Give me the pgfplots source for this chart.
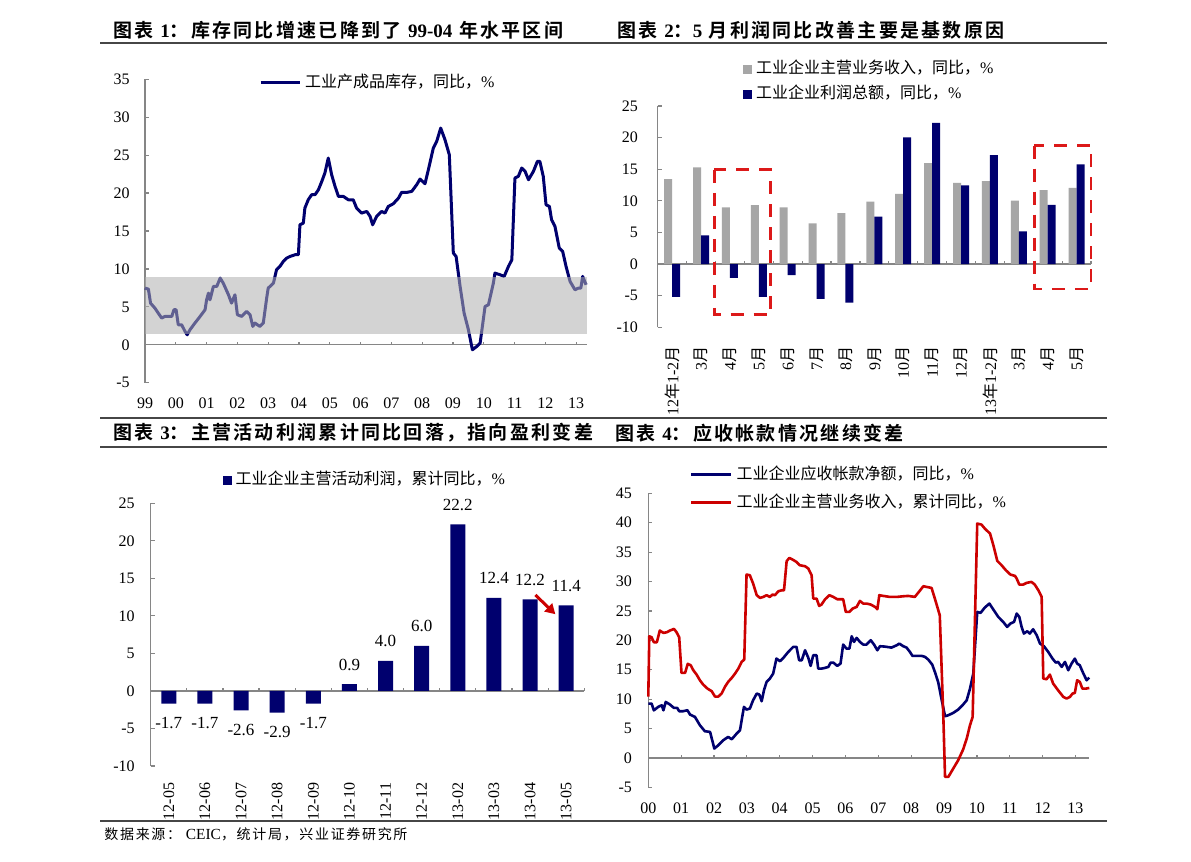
\documentclass[border=0pt]{standalone}
\usepackage{fontspec}
\usepackage{pgfplots}
\pgfplotsset{compat=1.18}
\usetikzlibrary{arrows.meta}
\setmainfont{Liberation Serif}
\newfontfamily\cjk{Noto Sans CJK SC}
\newfontfamily\cjkbf{Noto Sans CJK SC Bold}[LetterSpace=12]
\newfontfamily\cjkft{Noto Sans CJK SC}[LetterSpace=12]
\newcommand\zh[1]{{\cjk #1}}
\newcommand\tn[1]{{\rmfamily\bfseries #1}}

\definecolor{navy}{RGB}{0,0,110}
\definecolor{axisgray}{RGB}{134,134,134}
\definecolor{bargray}{RGB}{166,166,166}
\definecolor{bandgray}{RGB}{175,175,175}
\definecolor{linered}{RGB}{204,0,0}
\definecolor{boxred}{RGB}{220,25,25}
\definecolor{rulegray}{RGB}{70,70,70}

\pgfplotsset{
  panel/.style={
    scale only axis,
    axis x line=bottom, axis y line=left,
    axis line style={-},
    x axis line style={draw=none},
    y axis line style={draw=axisgray, line width=0.6pt},
    xtick style={draw=none},
    ytick style={draw=axisgray, line width=0.6pt},
    tick align=inside,
    major tick length=2pt,
    clip=false,
    tick label style={font=\fontsize{8pt}{9pt}\selectfont},
    yticklabel style={anchor=east, inner sep=0pt},
    xticklabel style={anchor=north, inner sep=0pt},
    legend style={draw=none, fill=none, inner sep=0pt, outer sep=0pt,
      font=\fontsize{8pt}{9pt}\selectfont\cjk,
      nodes={inner sep=0pt, text height=6pt, text depth=1.5pt},
      /tikz/every odd column/.append style={column sep=2pt}},
    legend cell align=left,
  },
  sqlegend/.style={legend image code/.code={\fill[##1, draw=none] (0pt,-2.25pt) rectangle (4.5pt,2.25pt);}},
  lnlegend/.style={legend image code/.code={\draw[##1] (0pt,0.25pt) -- (#1,0.25pt);}},
}

\begin{document}
\begin{tikzpicture}
\useasboundingbox (0,0) rectangle (595.5pt,-431pt);
\fill[white] (0,0) rectangle (595.5pt,-431pt);

% headings and rules
\node[anchor=west, inner sep=0pt] at (56.5pt,-15pt)
  {\fontsize{9.5pt}{11pt}\selectfont\cjkbf 图表 \tn{1}：库存同比增速已降到了 \tn{99-04} 年水平区间};
\node[anchor=west, inner sep=0pt] at (308.5pt,-15pt)
  {\fontsize{9.5pt}{11pt}\selectfont\cjkbf 图表 \tn{2}：\tn{5} 月利润同比改善主要是基数原因};
\node[anchor=west, inner sep=0pt] at (56.5pt,-216.5pt)
  {\fontsize{9.5pt}{11pt}\selectfont\cjkbf 图表 \tn{3}：主营活动利润累计同比回落，指向盈利变差};
\node[anchor=west, inner sep=0pt] at (307.5pt,-216.5pt)
  {\fontsize{9.5pt}{11pt}\selectfont\cjkbf 图表 \tn{4}：应收帐款情况继续变差};
\draw[rulegray, line width=0.6pt] (50pt,-21.5pt) -- (553.5pt,-21.5pt);
\draw[rulegray, line width=0.7pt] (50pt,-209pt) -- (553.5pt,-209pt);
\draw[rulegray, line width=0.6pt] (50pt,-223.5pt) -- (553.5pt,-223.5pt);
\draw[rulegray, line width=0.7pt] (50pt,-410.5pt) -- (553.5pt,-410.5pt);
\node[anchor=west, inner sep=0pt] at (52pt,-417pt)
  {\fontsize{7pt}{8pt}\selectfont\cjkft 数据来源：\ {\rmfamily\fontsize{7.7pt}{8pt}\selectfont CEIC}，统计局，兴业证券研究所};

% ---------- chart 1: finished goods inventory ----------
\begin{axis}[panel, at={(72.5pt,-191.35pt)}, anchor=south west,
  width=221pt, height=151.7pt,
  xmin=1999, xmax=2013.35, ymin=-5, ymax=35,
  xtick={1999,...,2013},
  xticklabels={99,00,01,02,03,04,05,06,07,08,09,10,11,12,13},
  ytick={-5,0,...,35}, yticklabels={-5,0,5,10,15,20,25,30,35},
  yticklabel style={xshift=-7.5pt},
  xticklabel style={yshift=-7.25pt},
  legend style={at={(0.258,0.989)}, anchor=west},
  lnlegend=19.5pt,
]
\draw[axisgray, line width=0.6pt] (axis cs:1999,0) -- (axis cs:2013.35,0);
\pgfplotsinvokeforeach{2000,...,2013}{\draw[axisgray, line width=0.6pt] (axis cs:#1,0) -- ++(0pt,1.5pt);}
\addplot[navy, line width=1.5pt, line join=round] table {
1999.00 7.47
1999.11 7.34
1999.18 5.49
1999.32 4.84
1999.54 3.52
1999.65 3.74
1999.87 3.74
1999.94 4.62
2000.01 4.62
2000.08 2.64
2000.19 2.64
2000.30 1.76
2000.37 1.32
2000.46 1.98
2000.62 2.86
2000.79 3.74
2000.95 4.62
2001.00 5.93
2001.06 6.81
2001.11 5.93
2001.22 7.69
2001.33 7.69
2001.44 8.79
2001.54 8.13
2001.71 6.59
2001.81 5.49
2001.92 6.59
2002.00 3.96
2002.14 3.74
2002.30 4.40
2002.41 3.96
2002.50 2.42
2002.57 2.86
2002.73 2.42
2002.84 2.86
2002.95 6.15
2003.00 7.47
2003.17 8.13
2003.27 9.89
2003.38 10.33
2003.49 10.99
2003.60 11.43
2003.71 11.65
2003.87 11.87
2003.98 11.87
2004.03 15.82
2004.14 16.04
2004.19 18.02
2004.30 19.12
2004.41 19.78
2004.52 19.78
2004.63 20.44
2004.74 21.54
2004.84 22.64
2004.95 24.62
2005.06 22.42
2005.17 20.88
2005.28 19.56
2005.44 19.56
2005.60 19.12
2005.76 19.12
2005.87 18.02
2006.03 17.36
2006.20 17.58
2006.31 16.92
2006.39 15.82
2006.52 16.92
2006.68 17.58
2006.79 17.36
2006.90 18.24
2007.06 18.59
2007.23 19.34
2007.33 20.09
2007.50 20.09
2007.66 20.22
2007.82 21.10
2007.93 21.85
2008.09 21.23
2008.20 23.08
2008.36 25.93
2008.47 26.81
2008.60 28.57
2008.74 27.03
2008.88 25.05
2009.01 12.09
2009.10 11.65
2009.23 7.69
2009.36 4.18
2009.50 1.98
2009.63 -0.66
2009.77 -0.22
2009.88 0.22
2009.99 3.52
2010.04 5.05
2010.15 5.27
2010.31 8.13
2010.36 9.45
2010.53 9.23
2010.66 9.01
2010.80 10.33
2010.91 11.21
2011.01 21.98
2011.12 22.20
2011.23 23.30
2011.34 22.86
2011.45 21.76
2011.61 22.86
2011.74 24.18
2011.82 24.18
2011.93 22.20
2012.02 18.46
2012.13 18.24
2012.20 16.48
2012.31 15.60
2012.45 12.75
2012.56 12.31
2012.67 10.33
2012.80 8.35
2012.96 7.25
2013.07 7.47
2013.15 7.47
2013.21 9.01
2013.32 7.91
};
\addlegendentry{工业产成品库存，同比，{\rmfamily\%}}
% 1999-2004 range band
\addplot[draw=none, fill=bandgray, fill opacity=0.55, forget plot]
  coordinates {(1999,1.45) (2013.35,1.45) (2013.35,8.9) (1999,8.9)} -- cycle;
\end{axis}

% ---------- chart 2: monthly revenue and profit ----------
\begin{axis}[panel, at={(328.85pt,-163.65pt)}, anchor=south west,
  width=216.65pt, height=110.65pt,
  xmin=-0.5, xmax=14.5, ymin=-10, ymax=25,
  ybar=0pt, bar width=4pt,
  xtick={0,...,14},
  xticklabels={12\zh{年}1-2\zh{月},3\zh{月},4\zh{月},5\zh{月},6\zh{月},7\zh{月},8\zh{月},9\zh{月},10\zh{月},11\zh{月},12\zh{月},13\zh{年}1-2\zh{月},3\zh{月},4\zh{月},5\zh{月}},
  xticklabel style={yshift=-7.2pt, rotate=90, anchor=east},
  ytick={-10,-5,...,25}, yticklabels={-10,-5,0,5,10,15,20,25},
  yticklabel style={xshift=-9.7pt},
  legend style={at={(0.197,1.199)}, anchor=north west, row sep=5pt},
]
\draw[axisgray, line width=0.6pt] (axis cs:-0.5,0) -- (axis cs:14.5,0);
\pgfplotsinvokeforeach{0.5,1.5,...,14.5}{\draw[axisgray, line width=0.6pt] (axis cs:#1,0) -- ++(0pt,1.5pt);}
\addplot[fill=bargray, draw=none, sqlegend] coordinates {
(0,13.44) (1,15.29) (2,8.96) (3,9.33) (4,8.96) (5,6.43) (6,8.07) (7,9.86)
(8,11.12) (9,15.97) (10,12.86) (11,13.13) (12,10.02) (13,11.70) (14,12.07)};
\addlegendentry{工业企业主营业务收入，同比，{\rmfamily\%}}
\addplot[fill=navy, draw=none, sqlegend] coordinates {
(0,-5.2) (1,4.53) (2,-2.2) (3,-5.2) (4,-1.74) (5,-5.5) (6,-6.1) (7,7.49)
(8,20.03) (9,22.35) (10,12.44) (11,17.24) (12,5.17) (13,9.38) (14,15.76)};
\addlegendentry{工业企业利润总额，同比，{\rmfamily\%}}
\draw[boxred, line width=1.4pt, dash pattern=on 6.5pt off 5pt] (axis cs:1.46,14.9) rectangle (axis cs:3.41,-8.0);
\draw[boxred, line width=1.4pt, dash pattern=on 6.5pt off 5pt] (axis cs:12.54,18.75) rectangle (axis cs:14.5,-3.95);
\end{axis}

% ---------- chart 3: cumulative operating profit ----------
\begin{axis}[panel, at={(75.35pt,-383pt)}, anchor=south west,
  width=216.8pt, height=131.35pt,
  xmin=-0.5, xmax=11.5, ymin=-10, ymax=25,
  ybar, bar width=7.5pt,
  xtick={0,...,11},
  xticklabels={12-05,12-06,12-07,12-08,12-09,12-10,12-11,12-12,13-02,13-03,13-04,13-05},
  xticklabel style={yshift=-6.2pt, rotate=90, anchor=east},
  ytick={-10,-5,...,25}, yticklabels={-10,-5,0,5,10,15,20,25},
  yticklabel style={xshift=-7.8pt},
  nodes near coords={\pgfmathprintnumber[fixed,fixed zerofill,precision=1,assume math mode=true]{\pgfplotspointmeta}},
  every node near coord/.append style={font=\fontsize{8.5pt}{9pt}\selectfont, text=black, inner xsep=0pt, inner ysep=6.7pt},
  legend style={at={(0.166,1.087)}, anchor=west},
]
\draw[axisgray, line width=0.6pt] (axis cs:-0.5,0) -- (axis cs:11.5,0);
\pgfplotsinvokeforeach{0.5,1.5,...,11.5}{\draw[axisgray, line width=0.6pt] (axis cs:#1,0) -- ++(0pt,1.5pt);}
\addplot[fill=navy, draw=none, sqlegend] coordinates {
(0,-1.7) (1,-1.7) (2,-2.6) (3,-2.9) (4,-1.7) (5,0.9) (6,4.0) (7,6.0)
(8,22.2) (9,12.4) (10,12.2) (11,11.4)};
\addlegendentry{工业企业主营活动利润，累计同比，{\rmfamily\%}}
\draw[linered, line width=1.5pt, -{Triangle[length=5pt,width=5.5pt]}] (axis cs:10.145,12.79) -- (axis cs:10.7,10.22);
\end{axis}

% ---------- chart 4: receivables vs revenue ----------
\begin{axis}[panel, at={(324.15pt,-393.65pt)}, anchor=south west,
  width=220.5pt, height=147pt,
  xmin=2000, xmax=2013.42, ymin=-5, ymax=45,
  xtick={2000,...,2013},
  xticklabels={00,01,02,03,04,05,06,07,08,09,10,11,12,13},
  xticklabel style={yshift=-7.75pt},
  ytick={-5,0,...,45}, yticklabels={-5,0,5,10,15,20,25,30,35,40,45},
  yticklabel style={xshift=-8pt},
  legend style={at={(0.0946,1.088)}, anchor=north west, row sep=6.65pt},
  lnlegend=20pt,
]
\draw[axisgray, line width=0.6pt] (axis cs:2000,0) -- (axis cs:2013.42,0);
\pgfplotsinvokeforeach{2001,...,2013}{\draw[axisgray, line width=0.6pt] (axis cs:#1,0) -- ++(0pt,1.5pt);}
\addplot[navy, line width=1.3pt, line join=round] table {
2000.00 9.24
2000.10 9.24
2000.17 8.09
2000.30 8.67
2000.41 8.96
2000.46 8.09
2000.53 9.52
2000.66 9.07
2000.78 8.50
2000.88 8.50
2000.94 7.94
2001.06 7.94
2001.19 8.11
2001.27 7.37
2001.42 6.97
2001.57 5.56
2001.72 4.54
2001.88 4.42
2002.01 1.59
2002.13 2.15
2002.28 3.00
2002.43 3.57
2002.54 3.17
2002.69 4.14
2002.79 4.71
2002.91 8.67
2002.99 8.22
2003.09 8.39
2003.19 9.81
2003.30 10.94
2003.38 10.77
2003.45 9.64
2003.52 11.51
2003.60 12.93
2003.70 13.49
2003.80 14.34
2003.90 16.89
2004.01 16.44
2004.11 17.01
2004.26 18.03
2004.41 18.88
2004.51 18.88
2004.59 16.61
2004.67 16.61
2004.77 18.31
2004.87 17.01
2004.94 15.65
2005.02 17.46
2005.12 17.46
2005.17 15.19
2005.27 15.19
2005.38 15.31
2005.48 15.48
2005.55 16.21
2005.63 16.21
2005.75 15.65
2005.85 16.04
2005.93 19.27
2006.03 18.59
2006.12 18.59
2006.19 20.69
2006.26 19.73
2006.34 20.41
2006.44 19.73
2006.54 19.27
2006.64 19.27
2006.77 20.01
2006.87 19.27
2006.97 18.31
2007.05 18.99
2007.20 18.93
2007.40 18.76
2007.56 19.16
2007.64 19.44
2007.76 18.99
2007.86 18.76
2007.96 18.03
2008.04 17.35
2008.16 17.35
2008.32 17.35
2008.42 17.18
2008.52 16.72
2008.64 15.87
2008.72 14.63
2008.82 12.93
2008.92 10.09
2009.03 7.09
2009.13 7.26
2009.28 7.66
2009.43 8.22
2009.58 9.07
2009.69 9.81
2009.79 11.79
2009.89 14.34
2010.01 24.83
2010.11 24.66
2010.24 25.57
2010.38 26.25
2010.50 25.23
2010.65 23.98
2010.80 23.13
2010.92 22.28
2011.02 22.85
2011.13 23.13
2011.21 24.55
2011.29 23.98
2011.36 22.28
2011.43 21.15
2011.53 21.54
2011.61 21.15
2011.71 21.88
2011.82 20.86
2011.92 19.44
2012.04 18.99
2012.17 18.03
2012.30 16.89
2012.40 16.21
2012.47 16.33
2012.58 15.48
2012.68 16.33
2012.78 14.91
2012.88 16.04
2012.98 16.89
2013.05 16.04
2013.13 15.76
2013.24 14.34
2013.34 13.21
2013.42 13.66
};
\addlegendentry{工业企业应收帐款净额，同比，{\rmfamily\%}}
\addplot[linered, line width=1.3pt, line join=round] table {
2000.00 10.43
2000.03 20.69
2000.10 20.52
2000.17 19.67
2000.26 19.67
2000.35 21.66
2000.46 21.26
2000.56 21.37
2000.66 21.66
2000.78 21.94
2000.86 21.37
2000.94 20.52
2001.01 14.46
2001.12 14.46
2001.20 15.99
2001.29 15.76
2001.37 14.91
2001.47 14.17
2001.57 13.21
2001.67 12.47
2001.80 11.79
2001.93 11.34
2002.03 10.43
2002.13 10.43
2002.23 10.94
2002.33 12.07
2002.43 12.93
2002.54 13.61
2002.64 14.34
2002.74 15.19
2002.84 16.33
2002.92 16.72
2002.99 31.18
2003.09 31.07
2003.19 29.65
2003.30 27.67
2003.40 27.21
2003.50 27.38
2003.60 27.67
2003.70 27.38
2003.78 27.78
2003.85 27.67
2003.96 28.34
2004.06 28.51
2004.13 28.51
2004.21 33.45
2004.29 34.01
2004.39 33.73
2004.51 33.33
2004.61 32.77
2004.77 32.60
2004.87 32.20
2004.97 31.07
2005.02 27.10
2005.12 27.10
2005.20 25.85
2005.27 26.08
2005.38 26.98
2005.51 27.67
2005.63 27.38
2005.75 26.98
2005.93 26.98
2006.01 24.83
2006.12 24.83
2006.22 25.40
2006.34 25.68
2006.44 26.70
2006.54 26.25
2006.64 26.25
2006.77 26.08
2006.90 25.68
2006.97 25.28
2007.03 27.67
2007.15 27.55
2007.35 27.38
2007.56 27.38
2007.76 27.49
2007.91 27.55
2008.11 27.38
2008.25 28.34
2008.37 29.20
2008.47 29.08
2008.62 28.91
2008.72 27.10
2008.87 24.26
2008.98 6.69
2009.03 -3.23
2009.13 -3.23
2009.28 -1.81
2009.43 -0.40
2009.58 1.42
2009.69 3.29
2009.79 5.56
2009.87 6.97
2010.01 39.85
2010.14 39.68
2010.24 39.00
2010.40 38.15
2010.50 36.17
2010.62 33.50
2010.75 32.77
2010.88 31.92
2011.02 31.18
2011.16 30.95
2011.21 30.50
2011.29 29.48
2011.41 29.48
2011.51 29.76
2011.66 29.93
2011.76 29.48
2011.87 28.51
2011.97 27.38
2012.02 13.49
2012.12 13.38
2012.22 14.17
2012.32 12.64
2012.47 11.51
2012.63 10.37
2012.73 10.09
2012.83 10.37
2012.91 10.94
2012.98 11.05
2013.05 13.21
2013.13 12.93
2013.21 11.79
2013.32 11.79
2013.42 11.90
};
\addlegendentry{工业企业主营业务收入，累计同比，{\rmfamily\%}}
\end{axis}
\end{tikzpicture}
\end{document}
